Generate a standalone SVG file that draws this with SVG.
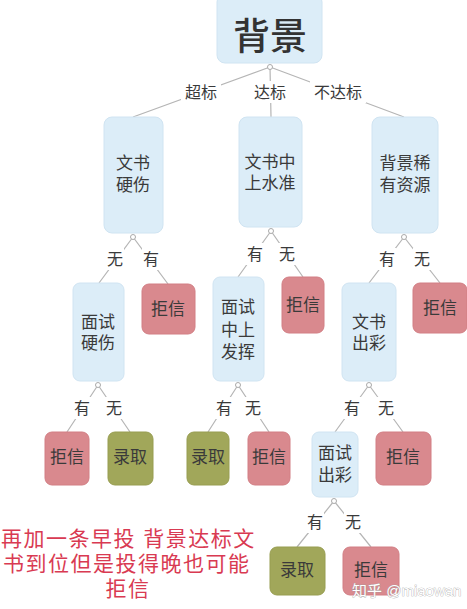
<svg xmlns="http://www.w3.org/2000/svg" width="467" height="609" viewBox="0 0 467 609">
<style>
.blue{fill:#dcedf8;stroke:#d0e4f2;stroke-width:1}
.red{fill:#d9898e;stroke:#d27e84;stroke-width:1}
.green{fill:#a1a75a;stroke:#979d50;stroke-width:1}
.t{font-family:"Liberation Sans","Noto Sans CJK SC",sans-serif;font-size:17px;fill:#3a3a3a;text-anchor:middle}
.lbl{font-family:"Liberation Sans","Noto Sans CJK SC",sans-serif;font-size:16px;fill:#3a3a3a;text-anchor:middle}
.ln{stroke:#b5b5b5;stroke-width:1.2;fill:none}
.jn{fill:#fff;stroke:#aaa;stroke-width:1}
.note{font-family:"Liberation Sans","Noto Sans CJK SC",sans-serif;font-size:21px;letter-spacing:1.5px;fill:#d93a52}
</style>
<rect width="467" height="609" fill="#fff"/>
<g id="connectors">
<path class="ln" d="M270 67 L133 117 M270 67 L271 117 M270 67 L404 117"/>
<path class="ln" d="M133 237 L99 283 M133 237 L168 284"/>
<path class="ln" d="M271 231 L238 277 M271 231 L303 277"/>
<path class="ln" d="M404 237 L369 283 M404 237 L440 283"/>
<path class="ln" d="M98 385 L67 432 M98 385 L130 432"/>
<path class="ln" d="M238 385 L208 432 M238 385 L269 432"/>
<path class="ln" d="M369 385 L335 432 M369 385 L403 432"/>
<path class="ln" d="M334 501 L297 547 M334 501 L371 547"/>
<g fill="#fff">
<rect x="181" y="81" width="40" height="22"/><rect x="250" y="81" width="40" height="22"/><rect x="310" y="81" width="56" height="22"/>
<rect x="106" y="248" width="18" height="22"/><rect x="142" y="248" width="18" height="22"/>
<rect x="246" y="243" width="18" height="22"/><rect x="278" y="243" width="18" height="22"/>
<rect x="378" y="248" width="18" height="22"/><rect x="413" y="248" width="18" height="22"/>
<rect x="73" y="397" width="18" height="22"/><rect x="105" y="397" width="18" height="22"/>
<rect x="215" y="397" width="18" height="22"/><rect x="244" y="397" width="18" height="22"/>
<rect x="343" y="397" width="18" height="22"/><rect x="377" y="397" width="18" height="22"/>
<rect x="306" y="511" width="18" height="22"/><rect x="344" y="511" width="18" height="22"/>
</g>
<g class="lbl">
<text x="201" y="98">超标</text><text x="270" y="98">达标</text><text x="338" y="98">不达标</text>
<text x="115" y="265">无</text><text x="151" y="265">有</text>
<text x="255" y="260">有</text><text x="287" y="260">无</text>
<text x="387" y="265">有</text><text x="422" y="265">无</text>
<text x="82" y="414">有</text><text x="114" y="414">无</text>
<text x="224" y="414">有</text><text x="253" y="414">无</text>
<text x="352" y="414">有</text><text x="386" y="414">无</text>
<text x="315" y="528">有</text><text x="353" y="528">无</text>
</g>
<circle class="jn" cx="270" cy="67" r="2.5"/>
<circle class="jn" cx="133" cy="237" r="2.5"/>
<circle class="jn" cx="271" cy="231" r="2.5"/>
<circle class="jn" cx="404" cy="237" r="2.5"/>
<circle class="jn" cx="98" cy="385" r="2.5"/>
<circle class="jn" cx="238" cy="385" r="2.5"/>
<circle class="jn" cx="369" cy="385" r="2.5"/>
<circle class="jn" cx="334" cy="501" r="2.5"/>
</g>
<g id="root"><rect class="blue" x="217" y="-6" width="105" height="69" rx="8"/><text x="270" y="50" style="font-family:'Liberation Sans','Noto Sans CJK SC',sans-serif;font-size:37px;fill:#333;text-anchor:middle;font-weight:500">背景</text></g>
<g id="n-wenshu-yingshang"><rect class="blue" x="104" y="117" width="59" height="116" rx="8"/><text class="t" x="133" y="169">文书<tspan x="133" dy="22">硬伤</tspan></text></g>
<g id="n-wenshu-zhongshang"><rect class="blue" x="239" y="117" width="63" height="110" rx="8"/><text class="t" x="270" y="168">文书中<tspan x="270" dy="21">上水准</tspan></text></g>
<g id="n-xiyou"><rect class="blue" x="372" y="117" width="66" height="116" rx="8"/><text class="t" x="405" y="169">背景稀<tspan x="405" dy="22">有资源</tspan></text></g>
<g id="n-mianshi-yingshang"><rect class="blue" x="73" y="283" width="51" height="98" rx="7"/><text class="t" x="98" y="328">面试<tspan x="98" dy="21">硬伤</tspan></text></g>
<g id="n-reject1"><rect class="red" x="142" y="284" width="53" height="50" rx="7"/><text class="t" x="168" y="315">拒信</text></g>
<g id="n-mianshi-zhongshang"><rect class="blue" x="213" y="277" width="51" height="104" rx="7"/><text class="t" x="238" y="313">面试<tspan x="238" dy="23">中上</tspan><tspan x="238" dy="22">发挥</tspan></text></g>
<g id="n-reject2"><rect class="red" x="282" y="277" width="42" height="56" rx="7"/><text class="t" x="303" y="311">拒信</text></g>
<g id="n-wenshu-chucai"><rect class="blue" x="342" y="283" width="54" height="98" rx="7"/><text class="t" x="369" y="328">文书<tspan x="369" dy="21">出彩</tspan></text></g>
<g id="n-reject3"><rect class="red" x="413" y="283" width="54" height="50" rx="7"/><text class="t" x="440" y="314">拒信</text></g>
<g id="n-reject4"><rect class="red" x="45" y="432" width="44" height="53" rx="7"/><text class="t" x="67" y="463">拒信</text></g>
<g id="n-admit1"><rect class="green" x="108" y="432" width="45" height="53" rx="7"/><text class="t" x="130" y="463">录取</text></g>
<g id="n-admit2"><rect class="green" x="187" y="432" width="42" height="53" rx="7"/><text class="t" x="208" y="463">录取</text></g>
<g id="n-reject5"><rect class="red" x="248" y="432" width="42" height="53" rx="7"/><text class="t" x="269" y="463">拒信</text></g>
<g id="n-mianshi-chucai"><rect class="blue" x="312" y="432" width="46" height="65" rx="7"/><text class="t" x="335" y="459">面试<tspan x="335" dy="22">出彩</tspan></text></g>
<g id="n-reject6"><rect class="red" x="376" y="432" width="55" height="53" rx="7"/><text class="t" x="403" y="463">拒信</text></g>
<g id="n-admit3"><rect class="green" x="270" y="547" width="55" height="48" rx="7"/><text class="t" x="297" y="576">录取</text></g>
<g id="n-reject7"><rect class="red" x="343" y="547" width="56" height="48" rx="7"/><text class="t" x="371" y="576">拒信</text></g>
<text id="note" class="note" x="1" y="546">再加一条早投 背景达标文<tspan x="3" dy="25">书到位但是投得晚也可能</tspan><tspan x="128" dy="25" text-anchor="middle">拒信</tspan></text>
<text x="352" y="596" style="font-family:'Liberation Sans','Noto Sans CJK SC',sans-serif;font-size:15px;fill:#fff;stroke:#9a9a9a;stroke-width:0.6;paint-order:stroke">知乎 @miaowan</text>
</svg>
